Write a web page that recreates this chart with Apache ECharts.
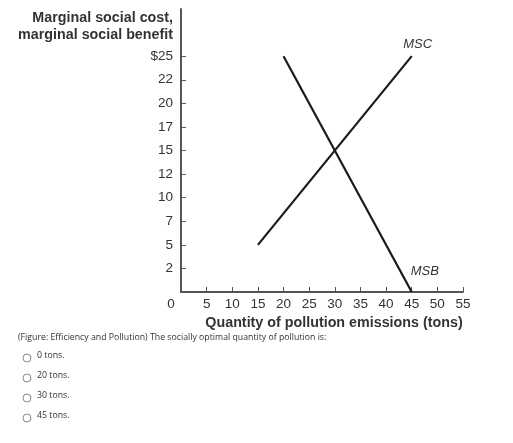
<!DOCTYPE html>
<html>
<head>
<meta charset="utf-8">
<script src="https://cdn.jsdelivr.net/npm/echarts@6/dist/echarts.min.js"></script>
<style>
html,body{margin:0;padding:0;background:#fff;}
#main{width:513px;height:443px;}
</style>
</head>
<body>
<div id="main"></div>
<script>
// curves
var mscX = [15, 45];
var mscY = [5, 25];
var msbX = [20, 45];
var msbY = [25, 0];

// axis ticks and labels
var xTicks = [5, 10, 15, 20, 25, 30, 35, 40, 45, 50, 55];
var xLabelValues = [0, 5, 10, 15, 20, 25, 30, 35, 40, 45, 50, 55];
var yTicks = [2.5, 5, 7.5, 10, 12.5, 15, 17.5, 20, 22.5, 25];
var yLabels = ['2', '5', '7', '10', '12', '15', '17', '20', '22', '$25'];

var question = '(Figure: Efficiency and Pollution) The socially optimal quantity of pollution is:';
var choices = ['0 tons.', '20 tons.', '30 tons.', '45 tons.'];

function pts(xs, ys) {
    var out = [];
    for (var i = 0; i < xs.length; i++) out.push([xs[i], ys[i]]);
    return out;
}

var curveLabel = {fontFamily: 'Liberation Sans', fontSize: 13, fontStyle: 'italic', color: '#333'};
var mscData = pts(mscX, mscY);
mscData[1] = {value: mscData[1], label: Object.assign({show: true, formatter: 'MSC', position: 'top', offset: [6, 0]}, curveLabel)};
var msbData = pts(msbX, msbY);
msbData[1] = {value: msbData[1], label: Object.assign({show: true, formatter: 'MSB', position: 'top', offset: [13, -9]}, curveLabel)};

var graphics = [{
    type: 'text', left: 18, top: 333,
    style: {text: question, font: '8.75px "Open Sans"', fill: '#333'}
}];
for (var i = 0; i < choices.length; i++) {
    graphics.push({
        type: 'circle', shape: {cx: 27, cy: 358 + i * 20, r: 4},
        style: {fill: '#fff', stroke: '#8a8a8a', lineWidth: 1}
    });
    graphics.push({
        type: 'text', left: 37, top: 351 + i * 20,
        style: {text: choices[i], font: '8.75px "Open Sans"', fill: '#333'}
    });
}

var chart = echarts.init(document.getElementById('main'));
chart.setOption({
    animation: false,
    grid: {left: 181, right: 50, top: 9, bottom: 151},
    xAxis: {
        type: 'value', min: 0, max: 55, interval: 5,
        name: 'Quantity of pollution emissions (tons)',
        nameLocation: 'middle', nameGap: 22,
        nameTextStyle: {fontFamily: 'Liberation Sans', fontSize: 14.3, fontWeight: 'bold', color: '#333', padding: [0, 0, 0, 24]},
        splitLine: {show: false},
        axisLine: {lineStyle: {color: '#555', width: 2}},
        axisTick: {show: true, inside: true, length: 5, customValues: xTicks, lineStyle: {color: '#555'}},
        axisLabel: {
            customValues: xLabelValues, margin: 5,
            fontFamily: 'Liberation Sans', fontSize: 13.5, color: '#333',
            formatter: function (v) { return v === 0 ? '{z|0}' : String(v); },
            rich: {z: {fontFamily: 'Liberation Sans', fontSize: 13.5, color: '#333', padding: [0, 20, 0, 0]}}
        }
    },
    yAxis: {
        type: 'value', min: 0, max: 30, interval: 2.5,
        name: 'Marginal social cost,\nmarginal social benefit',
        nameLocation: 'end', nameGap: -18,
        nameTextStyle: {fontFamily: 'Liberation Sans', fontSize: 14.3, fontWeight: 'bold', color: '#333',
            align: 'right', verticalAlign: 'middle', lineHeight: 17, padding: [0, 8, 0, 0]},
        splitLine: {show: false},
        axisLine: {show: true, lineStyle: {color: '#555', width: 2}},
        axisTick: {show: true, inside: true, length: 5, customValues: yTicks, lineStyle: {color: '#555'}},
        axisLabel: {
            customValues: yTicks, margin: 8,
            fontFamily: 'Liberation Sans', fontSize: 13.5, color: '#333',
            formatter: function (v) {
                var k = yTicks.indexOf(v);
                return k >= 0 ? yLabels[k] : '';
            }
        }
    },
    series: [{
        type: 'line', name: 'MSC', data: mscData, symbol: 'circle', symbolSize: 0, showSymbol: true,
        lineStyle: {color: '#1a1a1a', width: 2.2}
    }, {
        type: 'line', name: 'MSB', data: msbData, symbol: 'circle', symbolSize: 0, showSymbol: true,
        lineStyle: {color: '#1a1a1a', width: 2.2}
    }],
    graphic: graphics
});
</script>
</body>
</html>
